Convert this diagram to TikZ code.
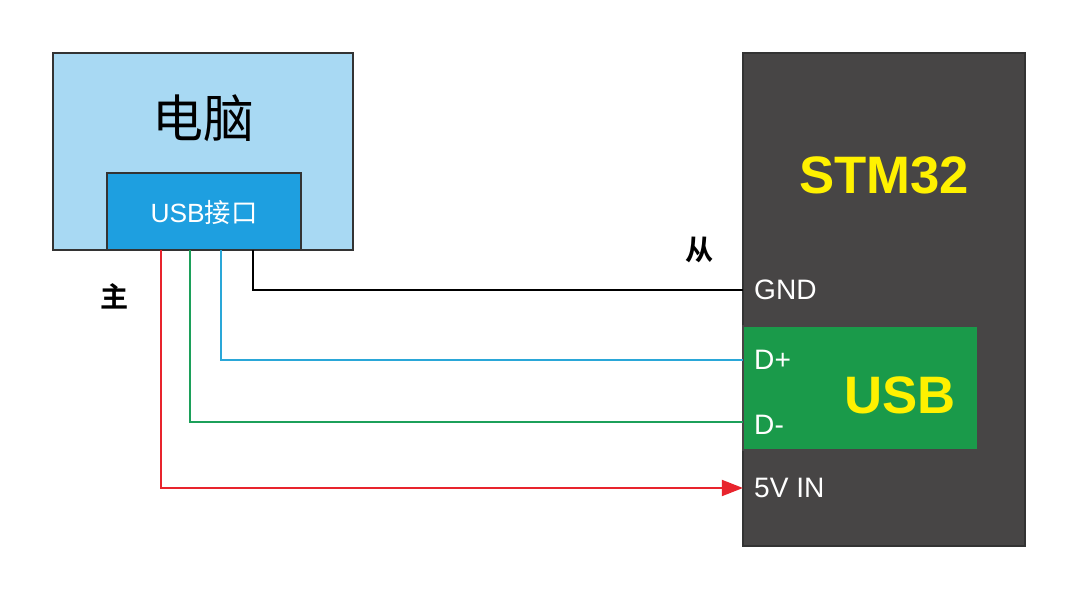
\documentclass[tikz,border=0pt]{standalone}
\usepackage{fontspec}
\setmainfont{Liberation Sans}
\newfontfamily\cjk{Noto Sans CJK SC}
\newfontfamily\cjkb{Noto Sans CJK SC Bold}
\usetikzlibrary{arrows.meta}
\definecolor{pcblue}{HTML}{A8D9F3}
\definecolor{usbblue}{HTML}{1E9FE0}
\definecolor{chip}{HTML}{474545}
\definecolor{usbgreen}{HTML}{1A9A4A}
\definecolor{ylw}{HTML}{FFF100}
\definecolor{wblue}{HTML}{2AA7D8}
\definecolor{wgreen}{HTML}{1CA05A}
\definecolor{wred}{HTML}{E8242D}
\begin{document}
\begin{tikzpicture}[x=0.02cm,y=-0.02cm,
  box/.style={draw=black!80,line width=1pt},
  pin/.style={text=white,font=\fontsize{16}{18}\selectfont,anchor=west},
  wire/.style={line width=1.4pt}]
\useasboundingbox (0,0) rectangle (1080,598);
\fill[white] (0,0) rectangle (1080,598);
\draw[box,fill=pcblue] (53,53) rectangle (353,250);
\draw[box,fill=usbblue] (107,173) rectangle (301,250);
\node (pc) at (203,118) {\cjk\fontsize{29}{32}\selectfont 电脑};
\node[text=white] (usbif) at (204,213) {\fontsize{15}{17}\selectfont USB\cjk 接口};
\draw[box,fill=chip] (743,53) rectangle (1025,546);
\draw[box,draw=chip,fill=usbgreen] (743,326) rectangle (978,450);
\node[text=ylw] (stm) at (884,175) {\bfseries\fontsize{30}{34}\selectfont STM32};
\node[text=ylw] (usb) at (900,395) {\bfseries\fontsize{30}{34}\selectfont USB};
\coordinate (gnd) at (743,290);
\coordinate (dp) at (743,360);
\coordinate (dm) at (743,422);
\coordinate (v5) at (743,488);
\node[pin] (lg) at (748,290) {GND};
\node[pin] (ldp) at (748,360) {D+};
\node[pin] (ldm) at (748,425) {D-};
\node[pin] (lv) at (748,488) {5V IN};
\node (zhu) at (115,296) {\cjkb\fontsize{16}{18}\selectfont 主};
\node (cong) at (700,250) {\cjkb\fontsize{16}{18}\selectfont 从};
\draw[wire,black] (253,250) |- (gnd);
\draw[wire,wblue] (221,250) |- (dp);
\draw[wire,wgreen] (190,250) |- (dm);
\draw[wire,wred,-{Triangle[length=12pt,width=9pt]}] (161,250) |- (v5);
\end{tikzpicture}
\end{document}
